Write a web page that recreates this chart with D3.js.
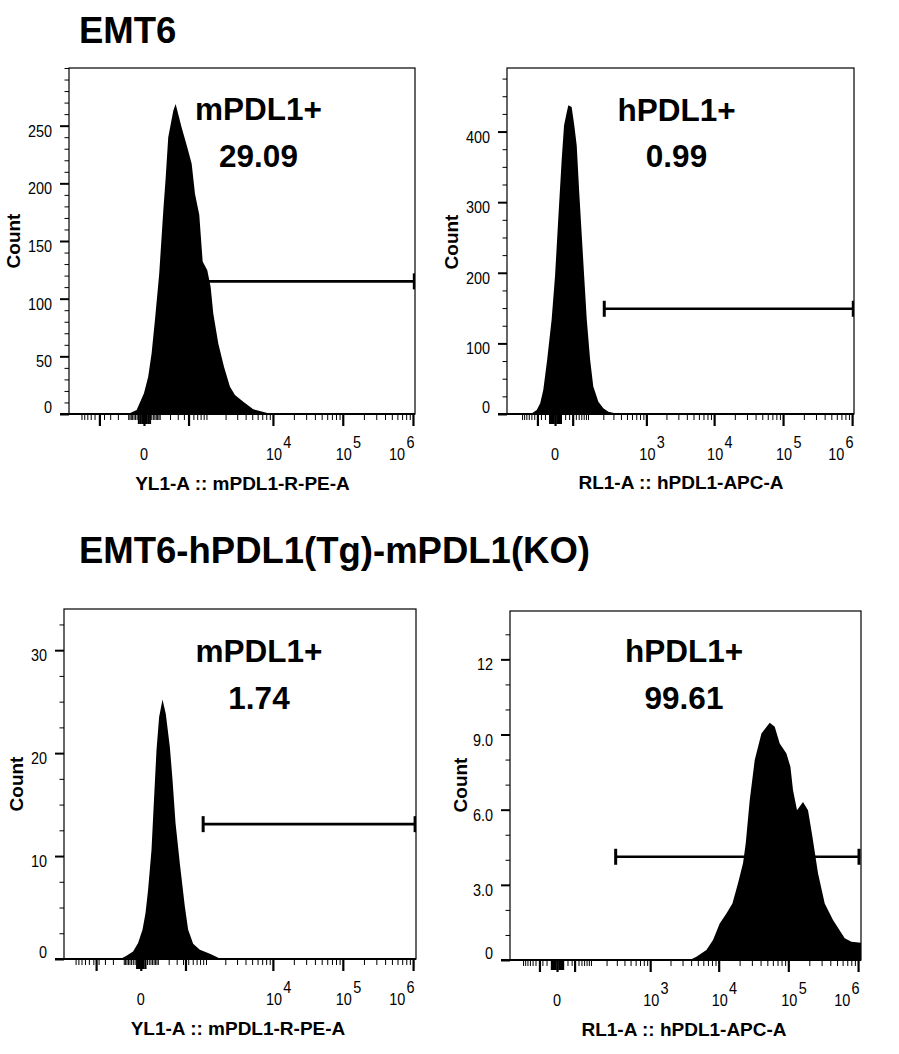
<!DOCTYPE html>
<html>
<head>
<meta charset="utf-8">
<script src="https://cdn.jsdelivr.net/npm/d3@7"></script>
<style>
  body { margin: 0; background: #fff; }
  text { font-family: "Liberation Sans", Arial, sans-serif; }
</style>
</head>
<body>
<svg id="chart" width="899" height="1054"></svg>
<script>
// ---- data ----
// histogram outlines: fluorescence value / count
const emt6MX = [-100, -40, 0, 22, 42, 64, 96, 131, 154, 180, 239, 270, 361, 464, 559, 640, 759, 866, 1031, 1170, 1288, 1544, 1891, 2334, 2776, 3691, 5180, 8570, 9500];
const emt6MCount = [0, 3.5, 17.9, 32.3, 52.5, 81.3, 121.7, 176.5, 205.3, 239.9, 263, 268.8, 248.5, 231.2, 216.9, 191, 172.7, 132.2, 124.6, 110.1, 87.1, 61.2, 40.9, 23.6, 16.4, 10.6, 4.1, 0.6, 0];

const emt6HX = [-62, -42, -32, -24, -15, -6, 0, 6, 12.5, 17.5, 24, 28, 37, 45, 53, 62, 72, 82, 94, 111, 129, 162, 200, 246, 320, 360];
const emt6HCount = [0, 5.7, 15.2, 34.1, 76.8, 133.7, 195.3, 280.7, 361.3, 408.7, 427.7, 437.1, 434.9, 408.7, 380.2, 314, 252.2, 195.3, 133.7, 76.8, 38.8, 17.5, 8.1, 3.3, 1, 0];

const koMX = [-127, -80, -38.5, -12.4, 7.7, 22.3, 36.2, 56.3, 71.2, 90.2, 110.2, 139, 170, 213, 245, 284, 347, 433, 498, 610, 793, 1153, 1652];
const koMCount = [0, 0.32, 0.74, 1.55, 2.84, 4.45, 6.73, 10.6, 15.1, 20.3, 23.5, 25.2, 23.8, 20.6, 17.4, 13.2, 9.3, 5.1, 2.84, 1.49, 0.9, 0.51, 0.06];

const koHX = [3814, 4770, 6655, 8286, 10350, 12920, 15760, 18970, 22390, 24480, 27940, 32970, 41140, 54110, 63840, 75300, 93950, 107200, 116800, 133300, 162400, 191600, 221600, 266600, 332600, 437300, 643700, 802900, 1100000];
const koHCount = [0, 0.13, 0.4, 0.8, 1.46, 1.86, 2.26, 3.06, 3.86, 4.65, 6.38, 7.98, 9.04, 9.47, 9.31, 8.64, 8.24, 7.71, 6.78, 5.98, 6.31, 5.98, 4.92, 3.46, 2.26, 1.6, 0.87, 0.73, 0.69];

// gates: [from, to, count level] and the % shown
const gates = [[880, 1045000, 115], [208, 1040000, 149], [899, 1068000, 13.1], [287, 1031000, 4.12]];
const gateNames = ["mPDL1+", "hPDL1+", "mPDL1+", "hPDL1+"];
const gatePercents = ["29.09", "0.99", "1.74", "99.61"];

const axisTitles = ["YL1-A :: mPDL1-R-PE-A", "RL1-A :: hPDL1-APC-A", "YL1-A :: mPDL1-R-PE-A", "RL1-A :: hPDL1-APC-A"];
const groupTitles = ["EMT6", "EMT6-hPDL1(Tg)-mPDL1(KO)"];

// y ticks
const yMajors = [[0, 50, 100, 150, 200, 250], [0, 100, 200, 300, 400], [0, 10, 20, 30], [0, 3, 6, 9, 12]];
const yLabels = [["0", "50", "100", "150", "200", "250"], ["0", "100", "200", "300", "400"], ["0", "10", "20", "30"], ["0", "3.0", "6.0", "9.0", "12"]];
const yMinorSteps = [10, 25, 2.5, 1];

// x ticks: labelled decades and the unlabelled major ticks
const xLabelled = [[0, 1e4, 1e5, 1e6], [0, 1e3, 1e4, 1e5, 1e6], [0, 1e4, 1e5, 1e6], [0, 1e3, 1e4, 1e5, 1e6]];
const xBlankMajors = [[-490, 490], [-40, 40], [-445, 445], [-38, 38]];

// ---- layout ----
const panels = [
  {box: {l: 69, r: 415, t: 68, b: 414}, c: 148, xDomain: [-1580, 1069000], yMax: 300,
   xs: emt6MX, ys: emt6MCount, annX: 258.5, annY: [120, 166.5], countX: 20, countY: 241, titleX: 242.5, titleY: 490},
  {box: {l: 507, r: 854, t: 68, b: 414}, c: 50, xDomain: [-198, 1065000], yMax: 490,
   xs: emt6HX, ys: emt6HCount, annX: 676.5, annY: [120.5, 166.5], countX: 458, countY: 242, titleX: 681, titleY: 489},
  {box: {l: 64, r: 416, t: 609, b: 959}, c: 134, xDomain: [-1523, 1100000], yMax: 34,
   xs: koMX, ys: koMCount, annX: 259, annY: [661.5, 708.5], countX: 22.5, countY: 784, titleX: 238, titleY: 1035},
  {box: {l: 510, r: 861, t: 611, b: 960}, c: 48.4, xDomain: [-180, 1101500], yMax: 13.93,
   xs: koHX, ys: koHCount, annX: 684, annY: [661.5, 709], countX: 467, countY: 785, titleX: 684, titleY: 1036}
];

const tickFont = 17, tickSqueeze = 0.85;   // tick labels are tall and narrow

const svg = d3.select("#chart");

// group headings
svg.append("text").attr("x", 79).attr("y", 43)
    .attr("font-size", 36.5).attr("font-weight", "bold").text(groupTitles[0]);
svg.append("text").attr("x", 79).attr("y", 563)
    .attr("font-size", 36.5).attr("font-weight", "bold").text(groupTitles[1]);

panels.forEach((p, i) => drawPanel(p, i));

// narrow tick label placed at (tx, ty)
function tickLabel(g, tx, ty, anchor) {
  return g.append("text")
      .attr("transform", `translate(${tx},${ty}) scale(${tickSqueeze},1)`)
      .attr("text-anchor", anchor)
      .attr("font-size", tickFont)
      .attr("fill", "#000");
}

function drawPanel(p, i) {
  const b = p.box;
  const g = svg.append("g");

  const x = d3.scaleSymlog().constant(p.c).domain(p.xDomain).range([b.l, b.r]);
  const y = d3.scaleLinear().domain([0, p.yMax]).range([b.b, b.t]);

  const clipId = `clip${i}`;
  g.append("clipPath").attr("id", clipId)
    .append("rect").attr("x", b.l).attr("y", b.t).attr("width", b.r - b.l).attr("height", b.b - b.t);

  // frame
  g.append("rect")
      .attr("x", b.l).attr("y", b.t)
      .attr("width", b.r - b.l).attr("height", b.b - b.t)
      .attr("fill", "none").attr("stroke", "#000").attr("stroke-width", 1.2);

  // gate bar (under the histogram)
  const [g0, g1, gy] = gates[i];
  const gate = g.append("g").attr("clip-path", `url(#${clipId})`);
  gate.append("line")
      .attr("x1", x(g0)).attr("x2", x(g1))
      .attr("y1", y(gy)).attr("y2", y(gy))
      .attr("stroke", "#000").attr("stroke-width", 2.6);
  [g0, g1].forEach(v => {
    gate.append("line")
        .attr("x1", x(v)).attr("x2", x(v))
        .attr("y1", y(gy) - 8).attr("y2", y(gy) + 8)
        .attr("stroke", "#000").attr("stroke-width", 3);
  });

  // histogram
  const area = d3.area()
      .x((d, k) => x(p.xs[k]))
      .y0(y(0))
      .y1(d => y(d));
  g.append("path")
      .datum(p.ys)
      .attr("clip-path", `url(#${clipId})`)
      .attr("fill", "#000")
      .attr("d", area);

  // x axis baseline
  g.append("line")
      .attr("x1", b.l - 9).attr("x2", b.r)
      .attr("y1", b.b).attr("y2", b.b)
      .attr("stroke", "#000").attr("stroke-width", 2);

  // x ticks
  const majors = xLabelled[i].concat(xBlankMajors[i]);
  const minors = [];
  for (let k = 0; k <= 5; k++) {
    for (let m = 1; m <= 9; m++) {
      const v = m * Math.pow(10, k);
      [v, -v].forEach(w => {
        if (w < p.xDomain[0] || w > p.xDomain[1]) return;
        if (majors.some(mv => Math.abs(x(mv) - x(w)) < 1.5)) return;
        minors.push(w);
      });
    }
  }
  const x0 = x(0);
  const nearZero = minors.filter(v => Math.abs(x(v) - x0) < 6);
  const farMinor = minors.filter(v => Math.abs(x(v) - x0) >= 6);

  const xTicks = (vals, len, w) => {
    g.append("g")
        .attr("transform", `translate(0,${b.b})`)
        .call(d3.axisBottom(x).tickValues(vals).tickSize(len).tickFormat(""))
        .call(s => s.select(".domain").remove())
        .call(s => s.selectAll("line").attr("stroke-width", w));
  };
  xTicks(farMinor, 6, 1);
  xTicks(nearZero, 10, 2);
  xTicks(majors, 12, 2.2);

  // x tick labels
  xLabelled[i].forEach(v => {
    const t = x(v);
    if (v === 0) {
      tickLabel(g, t, b.b + 46, "middle").text("0");
      return;
    }
    const last = v === 1e6;
    const lab = tickLabel(g, last ? t + 1.5 : t - 7, b.b + 46, last ? "end" : "start");
    lab.append("tspan").text("10");
    lab.append("tspan").attr("dx", 1.5).attr("dy", -12).text(Math.round(Math.log10(v)));
  });

  // y ticks
  const yMaj = yMajors[i];
  const step = yMinorSteps[i];
  const yMin = d3.range(0, p.yMax + 1e-6, step)
      .filter(v => !yMaj.some(m => Math.abs(m - v) < 1e-6));
  const yTicks = (vals, len, w) => {
    g.append("g")
        .attr("transform", `translate(${b.l},0)`)
        .call(d3.axisLeft(y).tickValues(vals).tickSize(len).tickFormat(""))
        .call(s => s.select(".domain").remove())
        .call(s => s.selectAll("line").attr("stroke-width", w));
  };
  yTicks(yMin, 4.5, 1);
  yTicks(yMaj, 9, 2);

  yMaj.forEach((v, k) => {
    tickLabel(g, b.l - 17, v === 0 ? y(v) - 1 : y(v) + 11, "end").text(yLabels[i][k]);
  });

  // axis titles
  g.append("text")
      .attr("transform", `translate(${p.countX},${p.countY}) rotate(-90)`)
      .attr("text-anchor", "middle")
      .attr("font-size", 19).attr("font-weight", "bold")
      .text("Count");
  g.append("text")
      .attr("x", p.titleX).attr("y", p.titleY)
      .attr("text-anchor", "middle")
      .attr("font-size", 19).attr("font-weight", "bold")
      .text(axisTitles[i]);

  // gate annotation
  g.append("text")
      .attr("x", p.annX).attr("y", p.annY[0])
      .attr("text-anchor", "middle")
      .attr("font-size", 31.5).attr("font-weight", "bold")
      .text(gateNames[i]);
  g.append("text")
      .attr("x", p.annX).attr("y", p.annY[1])
      .attr("text-anchor", "middle")
      .attr("font-size", 31.5).attr("font-weight", "bold")
      .text(gatePercents[i]);
}
</script>
</body>
</html>
